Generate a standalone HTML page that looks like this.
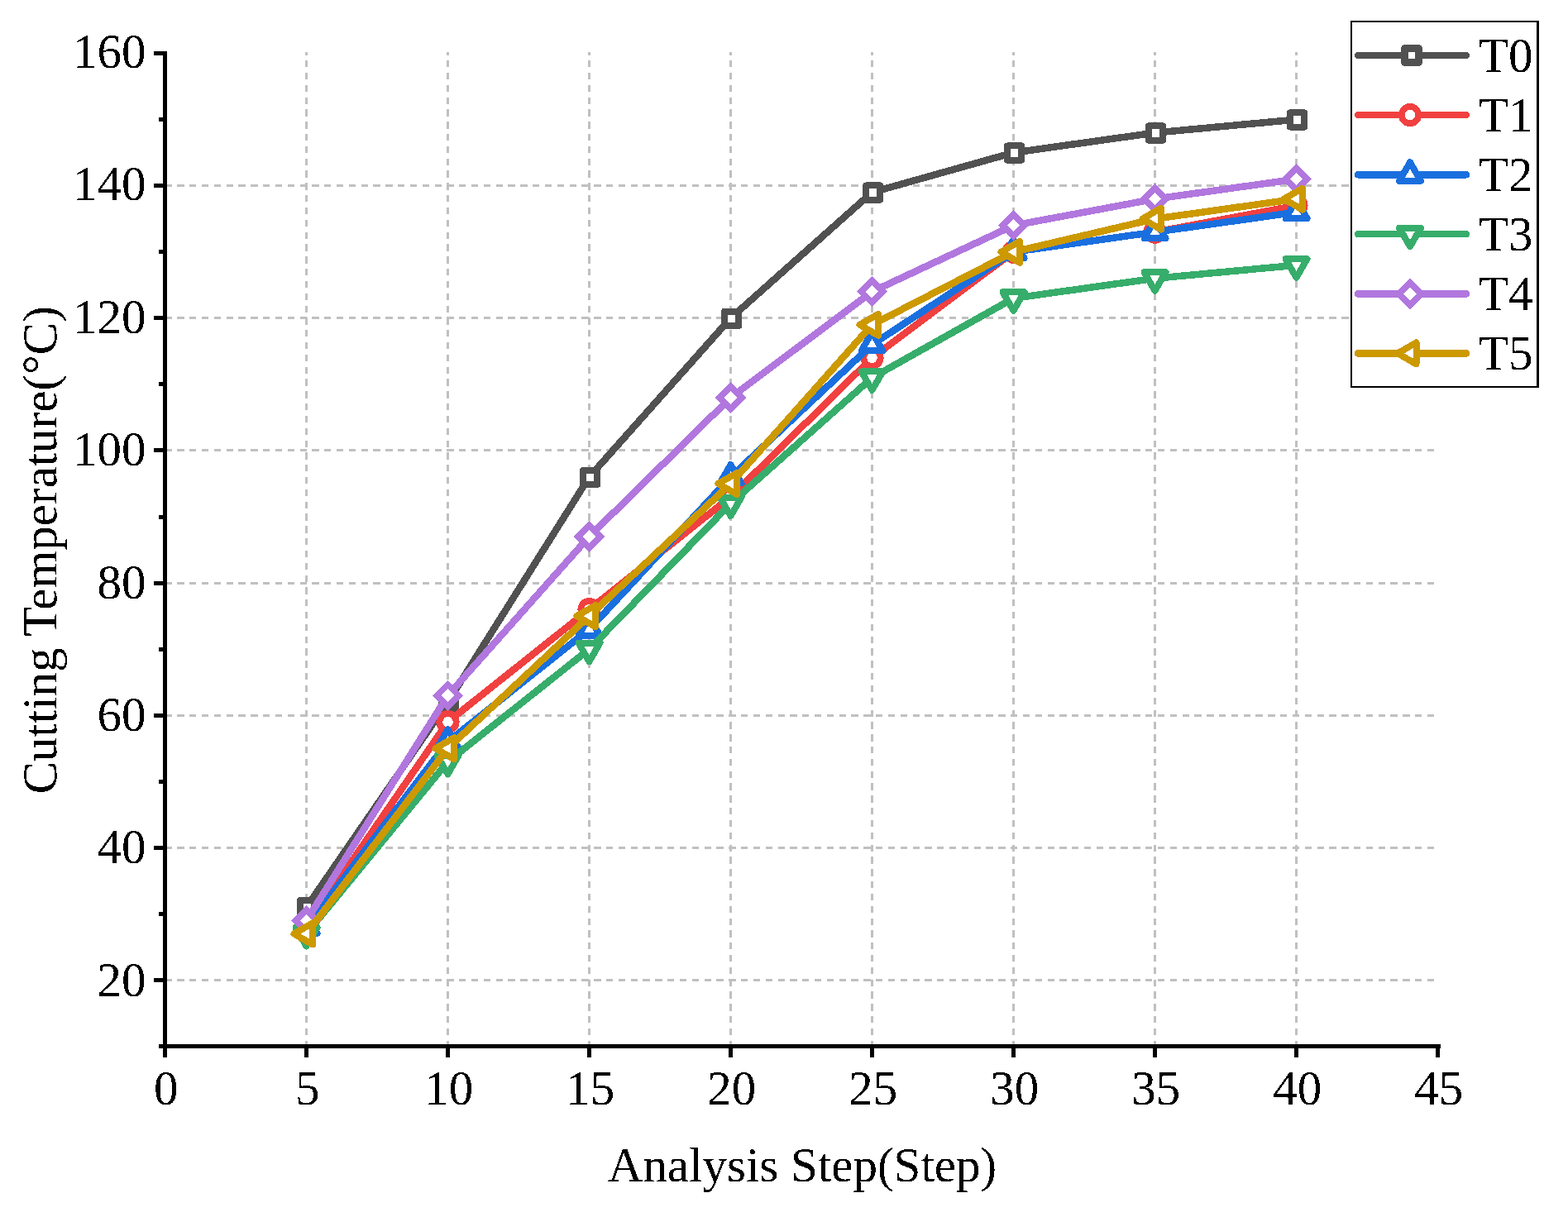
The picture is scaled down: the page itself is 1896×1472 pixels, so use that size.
<!DOCTYPE html>
<html><head><meta charset="utf-8"><title>Cutting Temperature vs Analysis Step</title>
<style>
html,body{margin:0;padding:0;background:#fff;}
svg{display:block;}
text{filter:url(#th);font-family:"Liberation Serif","Times New Roman",serif;fill:#000;}
</style></head><body>
<svg width="1896" height="1472" viewBox="0 0 1896 1472" shape-rendering="crispEdges">
<defs><filter id="th" x="-5%" y="-10%" width="110%" height="120%" color-interpolation-filters="sRGB"><feComponentTransfer><feFuncA type="discrete" tableValues="0 1"/></feComponentTransfer></filter></defs>
<rect width="1896" height="1472" fill="#fff"/>

<g stroke="#C0C0C0" stroke-width="3" stroke-dasharray="8.3 6.52" fill="none">
<line x1="199.5" y1="1185.50" x2="1738.50" y2="1185.50"/>
<line x1="199.5" y1="1025.36" x2="1738.50" y2="1025.36"/>
<line x1="199.5" y1="865.22" x2="1738.50" y2="865.22"/>
<line x1="199.5" y1="705.08" x2="1738.50" y2="705.08"/>
<line x1="199.5" y1="544.94" x2="1738.50" y2="544.94"/>
<line x1="199.5" y1="384.80" x2="1738.50" y2="384.80"/>
<line x1="199.5" y1="224.66" x2="1738.50" y2="224.66"/>
<line x1="370.50" y1="1267" x2="370.50" y2="63"/>
<line x1="541.50" y1="1267" x2="541.50" y2="63"/>
<line x1="712.50" y1="1267" x2="712.50" y2="63"/>
<line x1="883.50" y1="1267" x2="883.50" y2="63"/>
<line x1="1054.50" y1="1267" x2="1054.50" y2="63"/>
<line x1="1225.50" y1="1267" x2="1225.50" y2="63"/>
<line x1="1396.50" y1="1267" x2="1396.50" y2="63"/>
<line x1="1567.50" y1="1267" x2="1567.50" y2="63"/>
</g>
<g fill="#000" shape-rendering="crispEdges">
<rect x="197" y="62" width="5" height="1206"/>
<rect x="197" y="1263" width="1545" height="5"/>
<rect x="186" y="1183.00" width="12" height="5"/>
<rect x="186" y="1022.86" width="12" height="5"/>
<rect x="186" y="862.72" width="12" height="5"/>
<rect x="186" y="702.58" width="12" height="5"/>
<rect x="186" y="542.44" width="12" height="5"/>
<rect x="186" y="382.30" width="12" height="5"/>
<rect x="186" y="222.16" width="12" height="5"/>
<rect x="186" y="62.02" width="12" height="5"/>
<rect x="192" y="1263.07" width="6" height="5"/>
<rect x="192" y="1102.93" width="6" height="5"/>
<rect x="192" y="942.79" width="6" height="5"/>
<rect x="192" y="782.65" width="6" height="5"/>
<rect x="192" y="622.51" width="6" height="5"/>
<rect x="192" y="462.37" width="6" height="5"/>
<rect x="192" y="302.23" width="6" height="5"/>
<rect x="192" y="142.09" width="6" height="5"/>
<rect x="197.00" y="1264" width="5" height="15"/>
<rect x="368.00" y="1264" width="5" height="15"/>
<rect x="539.00" y="1264" width="5" height="15"/>
<rect x="710.00" y="1264" width="5" height="15"/>
<rect x="881.00" y="1264" width="5" height="15"/>
<rect x="1052.00" y="1264" width="5" height="15"/>
<rect x="1223.00" y="1264" width="5" height="15"/>
<rect x="1394.00" y="1264" width="5" height="15"/>
<rect x="1565.00" y="1264" width="5" height="15"/>
<rect x="1736.00" y="1264" width="5" height="15"/>
</g>
<g><polyline points="370.50,1097.42 541.50,849.21 712.50,576.97 883.50,384.80 1054.50,232.67 1225.50,184.62 1396.50,160.60 1567.50,144.59" fill="none" stroke="#515151" stroke-width="8.5" stroke-linejoin="round" stroke-linecap="round"/>
<rect x="363.15" y="1089.22" width="17.2" height="17.2" fill="#fff" stroke="#515151" stroke-width="8" stroke-linejoin="round"/>
<rect x="534.15" y="841.01" width="17.2" height="17.2" fill="#fff" stroke="#515151" stroke-width="8" stroke-linejoin="round"/>
<rect x="705.15" y="568.77" width="17.2" height="17.2" fill="#fff" stroke="#515151" stroke-width="8" stroke-linejoin="round"/>
<rect x="876.15" y="376.60" width="17.2" height="17.2" fill="#fff" stroke="#515151" stroke-width="8" stroke-linejoin="round"/>
<rect x="1047.15" y="224.47" width="17.2" height="17.2" fill="#fff" stroke="#515151" stroke-width="8" stroke-linejoin="round"/>
<rect x="1218.15" y="176.43" width="17.2" height="17.2" fill="#fff" stroke="#515151" stroke-width="8" stroke-linejoin="round"/>
<rect x="1389.15" y="152.40" width="17.2" height="17.2" fill="#fff" stroke="#515151" stroke-width="8" stroke-linejoin="round"/>
<rect x="1560.15" y="136.39" width="17.2" height="17.2" fill="#fff" stroke="#515151" stroke-width="8" stroke-linejoin="round"/>
</g>
<g><polyline points="370.50,1121.44 541.50,873.23 712.50,737.11 883.50,600.99 1054.50,432.84 1225.50,304.73 1396.50,280.71 1567.50,248.68" fill="none" stroke="#F14040" stroke-width="8.5" stroke-linejoin="round" stroke-linecap="round"/>
<circle cx="370.50" cy="1121.44" r="10.2" fill="#fff" stroke="#F14040" stroke-width="7.8"/>
<circle cx="541.50" cy="873.23" r="10.2" fill="#fff" stroke="#F14040" stroke-width="7.8"/>
<circle cx="712.50" cy="737.11" r="10.2" fill="#fff" stroke="#F14040" stroke-width="7.8"/>
<circle cx="883.50" cy="600.99" r="10.2" fill="#fff" stroke="#F14040" stroke-width="7.8"/>
<circle cx="1054.50" cy="432.84" r="10.2" fill="#fff" stroke="#F14040" stroke-width="7.8"/>
<circle cx="1225.50" cy="304.73" r="10.2" fill="#fff" stroke="#F14040" stroke-width="7.8"/>
<circle cx="1396.50" cy="280.71" r="10.2" fill="#fff" stroke="#F14040" stroke-width="7.8"/>
<circle cx="1567.50" cy="248.68" r="10.2" fill="#fff" stroke="#F14040" stroke-width="7.8"/>
</g>
<g><polyline points="370.50,1121.44 541.50,897.25 712.50,761.13 883.50,576.97 1054.50,416.83 1225.50,304.73 1396.50,280.71 1567.50,256.69" fill="none" stroke="#1A6FDF" stroke-width="8.5" stroke-linejoin="round" stroke-linecap="round"/>
<polygon points="370.50,1106.44 383.49,1128.94 357.51,1128.94" fill="#fff" stroke="#1A6FDF" stroke-width="8" stroke-linejoin="round"/>
<polygon points="541.50,882.25 554.49,904.75 528.51,904.75" fill="#fff" stroke="#1A6FDF" stroke-width="8" stroke-linejoin="round"/>
<polygon points="712.50,746.13 725.49,768.63 699.51,768.63" fill="#fff" stroke="#1A6FDF" stroke-width="8" stroke-linejoin="round"/>
<polygon points="883.50,561.97 896.49,584.47 870.51,584.47" fill="#fff" stroke="#1A6FDF" stroke-width="8" stroke-linejoin="round"/>
<polygon points="1054.50,401.83 1067.49,424.33 1041.51,424.33" fill="#fff" stroke="#1A6FDF" stroke-width="8" stroke-linejoin="round"/>
<polygon points="1225.50,289.73 1238.49,312.23 1212.51,312.23" fill="#fff" stroke="#1A6FDF" stroke-width="8" stroke-linejoin="round"/>
<polygon points="1396.50,265.71 1409.49,288.21 1383.51,288.21" fill="#fff" stroke="#1A6FDF" stroke-width="8" stroke-linejoin="round"/>
<polygon points="1567.50,241.69 1580.49,264.19 1554.51,264.19" fill="#fff" stroke="#1A6FDF" stroke-width="8" stroke-linejoin="round"/>
</g>
<g><polyline points="370.50,1129.45 541.50,921.27 712.50,785.15 883.50,609.00 1054.50,456.86 1225.50,360.78 1396.50,336.76 1567.50,320.74" fill="none" stroke="#37AD6B" stroke-width="8.5" stroke-linejoin="round" stroke-linecap="round"/>
<polygon points="370.50,1144.45 383.49,1121.95 357.51,1121.95" fill="#fff" stroke="#37AD6B" stroke-width="8" stroke-linejoin="round"/>
<polygon points="541.50,936.27 554.49,913.77 528.51,913.77" fill="#fff" stroke="#37AD6B" stroke-width="8" stroke-linejoin="round"/>
<polygon points="712.50,800.15 725.49,777.65 699.51,777.65" fill="#fff" stroke="#37AD6B" stroke-width="8" stroke-linejoin="round"/>
<polygon points="883.50,624.00 896.49,601.50 870.51,601.50" fill="#fff" stroke="#37AD6B" stroke-width="8" stroke-linejoin="round"/>
<polygon points="1054.50,471.86 1067.49,449.36 1041.51,449.36" fill="#fff" stroke="#37AD6B" stroke-width="8" stroke-linejoin="round"/>
<polygon points="1225.50,375.78 1238.49,353.28 1212.51,353.28" fill="#fff" stroke="#37AD6B" stroke-width="8" stroke-linejoin="round"/>
<polygon points="1396.50,351.76 1409.49,329.26 1383.51,329.26" fill="#fff" stroke="#37AD6B" stroke-width="8" stroke-linejoin="round"/>
<polygon points="1567.50,335.74 1580.49,313.24 1554.51,313.24" fill="#fff" stroke="#37AD6B" stroke-width="8" stroke-linejoin="round"/>
</g>
<g><polyline points="370.50,1113.44 541.50,841.20 712.50,649.03 883.50,480.88 1054.50,352.77 1225.50,272.70 1396.50,240.67 1567.50,216.65" fill="none" stroke="#B177DE" stroke-width="8.5" stroke-linejoin="round" stroke-linecap="round"/>
<polygon points="370.50,1100.24 383.70,1113.44 370.50,1126.64 357.30,1113.44" fill="#fff" stroke="#B177DE" stroke-width="7.7" stroke-linejoin="miter"/>
<polygon points="541.50,828.00 554.70,841.20 541.50,854.40 528.30,841.20" fill="#fff" stroke="#B177DE" stroke-width="7.7" stroke-linejoin="miter"/>
<polygon points="712.50,635.83 725.70,649.03 712.50,662.23 699.30,649.03" fill="#fff" stroke="#B177DE" stroke-width="7.7" stroke-linejoin="miter"/>
<polygon points="883.50,467.68 896.70,480.88 883.50,494.08 870.30,480.88" fill="#fff" stroke="#B177DE" stroke-width="7.7" stroke-linejoin="miter"/>
<polygon points="1054.50,339.57 1067.70,352.77 1054.50,365.97 1041.30,352.77" fill="#fff" stroke="#B177DE" stroke-width="7.7" stroke-linejoin="miter"/>
<polygon points="1225.50,259.50 1238.70,272.70 1225.50,285.90 1212.30,272.70" fill="#fff" stroke="#B177DE" stroke-width="7.7" stroke-linejoin="miter"/>
<polygon points="1396.50,227.47 1409.70,240.67 1396.50,253.87 1383.30,240.67" fill="#fff" stroke="#B177DE" stroke-width="7.7" stroke-linejoin="miter"/>
<polygon points="1567.50,203.45 1580.70,216.65 1567.50,229.85 1554.30,216.65" fill="#fff" stroke="#B177DE" stroke-width="7.7" stroke-linejoin="miter"/>
</g>
<g><polyline points="370.50,1129.45 541.50,905.25 712.50,745.12 883.50,584.98 1054.50,392.81 1225.50,304.73 1396.50,264.70 1567.50,240.67" fill="none" stroke="#CC9900" stroke-width="8.5" stroke-linejoin="round" stroke-linecap="round"/>
<polygon points="355.50,1129.45 378.00,1116.46 378.00,1142.44" fill="#fff" stroke="#CC9900" stroke-width="8" stroke-linejoin="round"/>
<polygon points="526.50,905.25 549.00,892.26 549.00,918.25" fill="#fff" stroke="#CC9900" stroke-width="8" stroke-linejoin="round"/>
<polygon points="697.50,745.12 720.00,732.12 720.00,758.11" fill="#fff" stroke="#CC9900" stroke-width="8" stroke-linejoin="round"/>
<polygon points="868.50,584.98 891.00,571.98 891.00,597.97" fill="#fff" stroke="#CC9900" stroke-width="8" stroke-linejoin="round"/>
<polygon points="1039.50,392.81 1062.00,379.82 1062.00,405.80" fill="#fff" stroke="#CC9900" stroke-width="8" stroke-linejoin="round"/>
<polygon points="1210.50,304.73 1233.00,291.74 1233.00,317.72" fill="#fff" stroke="#CC9900" stroke-width="8" stroke-linejoin="round"/>
<polygon points="1381.50,264.70 1404.00,251.70 1404.00,277.69" fill="#fff" stroke="#CC9900" stroke-width="8" stroke-linejoin="round"/>
<polygon points="1552.50,240.67 1575.00,227.68 1575.00,253.66" fill="#fff" stroke="#CC9900" stroke-width="8" stroke-linejoin="round"/>
</g>
<g font-size="59">
<text x="176.5" y="1204.8" text-anchor="end">20</text>
<text x="176.5" y="1044.4" text-anchor="end">40</text>
<text x="176.5" y="884.0" text-anchor="end">60</text>
<text x="176.5" y="723.6" text-anchor="end">80</text>
<text x="176.5" y="563.2" text-anchor="end">100</text>
<text x="176.5" y="402.7" text-anchor="end">120</text>
<text x="176.5" y="242.3" text-anchor="end">140</text>
<text x="176.5" y="81.9" text-anchor="end">160</text>
<text x="200.70" y="1335.5" text-anchor="middle">0</text>
<text x="371.70" y="1335.5" text-anchor="middle">5</text>
<text x="542.70" y="1335.5" text-anchor="middle">10</text>
<text x="713.70" y="1335.5" text-anchor="middle">15</text>
<text x="884.70" y="1335.5" text-anchor="middle">20</text>
<text x="1055.70" y="1335.5" text-anchor="middle">25</text>
<text x="1226.70" y="1335.5" text-anchor="middle">30</text>
<text x="1397.70" y="1335.5" text-anchor="middle">35</text>
<text x="1568.70" y="1335.5" text-anchor="middle">40</text>
<text x="1739.70" y="1335.5" text-anchor="middle">45</text>
</g>
<text x="970" y="1429.3" font-size="59" text-anchor="middle">Analysis Step(Step)</text>
<text transform="translate(68.3,665.4) rotate(-90)" font-size="59" text-anchor="middle">Cutting Temperature(°C)</text>
<rect x="1633" y="25" width="228" height="444" fill="#fff"/>
<g fill="#000" shape-rendering="crispEdges">
<rect x="1633" y="25" width="2" height="444"/>
<rect x="1633" y="25" width="228" height="2"/>
<rect x="1858" y="25" width="3" height="444"/>
<rect x="1633" y="467" width="228" height="2"/>
</g>
<line x1="1642" y1="67.0" x2="1773" y2="67.0" stroke="#515151" stroke-width="8.5" stroke-linecap="round"/>
<rect x="1698.40" y="58.40" width="17.2" height="17.2" fill="#fff" stroke="#515151" stroke-width="8.5" stroke-linejoin="round"/>
<text x="1788" y="87.0" font-size="59">T0</text>
<line x1="1642" y1="139.1" x2="1773" y2="139.1" stroke="#F14040" stroke-width="8.5" stroke-linecap="round"/>
<circle cx="1705.00" cy="139.10" r="10.2" fill="#fff" stroke="#F14040" stroke-width="7.8"/>
<text x="1788" y="159.1" font-size="59">T1</text>
<line x1="1642" y1="211.3" x2="1773" y2="211.3" stroke="#1A6FDF" stroke-width="8.5" stroke-linecap="round"/>
<polygon points="1705.00,196.30 1717.99,218.80 1692.01,218.80" fill="#fff" stroke="#1A6FDF" stroke-width="8" stroke-linejoin="round"/>
<text x="1788" y="231.3" font-size="59">T2</text>
<line x1="1642" y1="283.2" x2="1773" y2="283.2" stroke="#37AD6B" stroke-width="8.5" stroke-linecap="round"/>
<polygon points="1705.00,298.20 1717.99,275.70 1692.01,275.70" fill="#fff" stroke="#37AD6B" stroke-width="8" stroke-linejoin="round"/>
<text x="1788" y="303.2" font-size="59">T3</text>
<line x1="1642" y1="355.4" x2="1773" y2="355.4" stroke="#B177DE" stroke-width="8.5" stroke-linecap="round"/>
<polygon points="1705.00,342.20 1718.20,355.40 1705.00,368.60 1691.80,355.40" fill="#fff" stroke="#B177DE" stroke-width="7.7" stroke-linejoin="miter"/>
<text x="1788" y="375.4" font-size="59">T4</text>
<line x1="1642" y1="427.4" x2="1773" y2="427.4" stroke="#CC9900" stroke-width="8.5" stroke-linecap="round"/>
<polygon points="1690.00,427.40 1712.50,414.41 1712.50,440.39" fill="#fff" stroke="#CC9900" stroke-width="8" stroke-linejoin="round"/>
<text x="1788" y="447.4" font-size="59">T5</text>
</svg></body></html>
